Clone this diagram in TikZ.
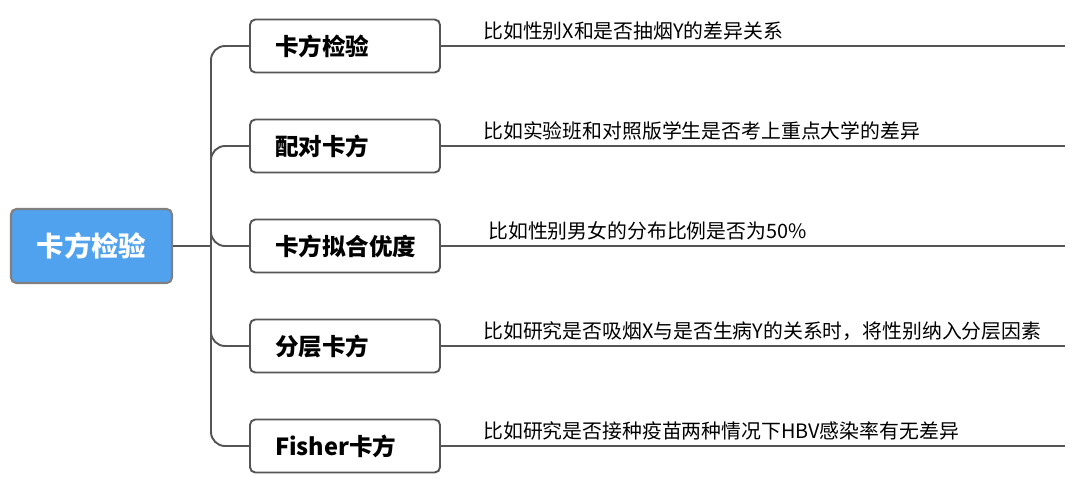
\documentclass[tikz,border=0pt]{standalone}
\usepackage{fontspec}
\setmainfont{Noto Sans CJK SC}
\definecolor{rootblue}{HTML}{50A2EE}
\definecolor{edgegray}{HTML}{555555}
\tikzset{
  rootbox/.style={draw=gray, line width=1.2pt, fill=rootblue, rounded corners=3pt,
    minimum width=3.22cm, minimum height=1.48cm, text=white,
    font=\fontsize{15.6}{18}\selectfont\bfseries},
  childbox/.style={draw=edgegray, line width=1.1pt, fill=white, rounded corners=3pt,
    minimum width=3.8cm, minimum height=1.06cm, inner xsep=0.5cm,
    text width=2.8cm, align=left, font=\fontsize{13.4}{16}\selectfont\bfseries},
  note/.style={anchor=base west, inner sep=0pt, font=\fontsize{11.3}{13}\selectfont},
  link/.style={draw=edgegray, line width=1.1pt}
}
\begin{document}
\begin{tikzpicture}[x=0.02cm, y=-0.02cm]
\useasboundingbox (0,0) rectangle (1080,488);
% racine
\node[rootbox] (root) at (91.5,246) {卡方检验};
\coordinate (trunk) at (211,246);
% branches
\node[childbox] (chi) at (345,46) {卡方检验};
\node[childbox] (paired) at (345,146) {配对卡方};
\node[childbox] (fit) at (345,246) {卡方拟合优度};
\node[childbox] (strat) at (345,346) {分层卡方};
\node[childbox] (fisher) at (345,446) {Fisher卡方};
\draw[link] (root.east) -- (trunk);
\foreach \c in {chi,paired,fit,strat,fisher}
  \draw[link, rounded corners=8pt] (trunk) |- (\c.west);
% lignes des exemples
\coordinate (e1) at (1065,46);
\coordinate (e2) at (1065,146);
\coordinate (e3) at (1065,246);
\coordinate (e4) at (1065,346);
\coordinate (e5) at (1065,446);
\draw[link] (chi.east) -- (e1);
\draw[link] (paired.east) -- (e2);
\draw[link] (fit.east) -- (e3);
\draw[link] (strat.east) -- (e4);
\draw[link] (fisher.east) -- (e5);
\node[note] (n1) at (483,38) {比如性别X和是否抽烟Y的差异关系};
\node[note] (n2) at (483,138) {比如实验班和对照版学生是否考上重点大学的差异};
\node[note] (n3) at (488,238) {比如性别男女的分布比例是否为50\%};
\node[note] (n4) at (483,338) {比如研究是否吸烟X与是否生病Y的关系时，将性别纳入分层因素};
\node[note] (n5) at (483,438) {比如研究是否接种疫苗两种情况下HBV感染率有无差异};
\end{tikzpicture}
\end{document}
